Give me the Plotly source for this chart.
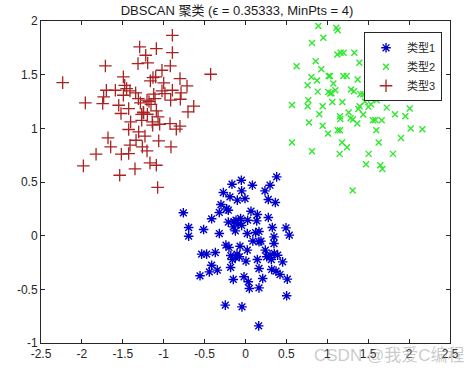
import plotly.graph_objects as go

# ---- data ----
c1_x = [0.381,-0.051,-0.165,0.084,0.300,-0.047,-0.271,0.238,-0.190,-0.006,-0.100,0.279,0.365,-0.300,-0.210,0.067,
        -0.320,-0.760,0.145,-0.414,0.279,0.137,-0.210,-0.116,-0.088,0.026,-0.149,-0.047,-0.695,-0.512,0.328,0.495,
        -0.124,-0.695,-0.320,0.022,0.124,0.165,0.536,0.348,0.165,0.189,0.348,-0.239,-0.067,0.022,-0.202,0.242,
        -0.536,-0.475,-0.369,-0.104,0.352,0.393,0.259,-0.124,-0.075,-0.161,0.006,0.145,0.316,0.454,-0.414,-0.182,
        0.165,-0.344,-0.442,0.320,0.373,-0.556,0.422,-0.018,0.210,0.511,-0.149,0.034,0.047,0.165,0.503,-0.247,
        -0.043,0.161,-0.140,-0.180,-0.060,0.090,0.300,-0.230]
c1_y = [0.548,0.517,0.479,0.470,0.470,0.417,0.402,0.417,0.362,0.346,0.331,0.337,0.309,0.290,0.237,0.228,
        0.216,0.213,0.197,0.157,0.169,0.138,0.126,0.144,0.113,0.144,0.082,0.095,0.076,0.057,0.076,0.073,
        0.045,-0.005,0.020,0.020,0.029,0.039,0.005,-0.011,-0.057,-0.051,-0.073,-0.088,-0.098,-0.135,-0.110,-0.135,
        -0.172,-0.172,-0.157,-0.172,-0.166,-0.182,-0.197,-0.203,-0.197,-0.222,-0.237,-0.222,-0.222,-0.244,-0.275,-0.296,
        -0.306,-0.321,-0.337,-0.315,-0.331,-0.374,-0.362,-0.383,-0.399,-0.405,-0.408,-0.430,-0.492,-0.486,-0.560,-0.647,
        -0.663,-0.840,0.130,-0.185,0.160,-0.050,-0.180,0.250]

c2_x = [0.890,1.110,1.127,0.951,0.813,1.163,1.200,1.330,1.123,0.858,1.392,0.625,0.927,1.017,1.033,1.196,
        1.237,0.805,0.874,1.371,1.498,1.665,0.760,1.074,1.290,0.882,1.013,1.098,1.037,1.326,1.404,1.534,
        1.640,1.440,1.477,1.514,0.768,1.061,1.184,1.603,0.568,0.760,0.943,1.396,1.502,1.534,1.261,1.726,
        2.007,0.902,1.155,1.286,1.440,1.828,1.954,1.159,1.314,1.559,1.587,1.665,0.776,1.367,0.943,2.019,
        2.162,1.127,1.155,1.599,1.009,1.901,0.568,1.180,1.628,1.241,0.813,1.151,1.506,1.803,1.473,1.648,
        1.673,1.310,1.050,1.460,1.380]
c2_y = [1.954,1.938,1.913,1.845,1.795,1.705,1.705,1.705,1.687,1.625,1.612,1.578,1.550,1.488,1.488,1.488,
        1.488,1.479,1.445,1.454,1.439,1.420,1.401,1.417,1.361,1.342,1.339,1.355,1.324,1.345,1.318,1.367,
        1.318,1.318,1.287,1.299,1.262,1.246,1.246,1.262,1.218,1.206,1.206,1.206,1.200,1.224,1.147,1.193,
        1.184,1.131,1.113,1.094,1.128,1.131,1.113,1.088,1.082,1.075,1.078,1.075,1.054,1.044,1.023,0.998,
        0.992,0.982,0.982,0.982,0.951,0.911,0.867,0.867,0.867,0.824,0.787,0.762,0.762,0.762,0.666,0.656,
        0.622,0.421,1.330,1.250,1.180]

c3_x = [-0.894,-1.294,-1.090,-0.894,-1.220,-1.713,-1.314,-1.196,-0.919,-1.021,-0.426,-2.235,-1.493,-1.131,-1.098,-1.163,
        -0.801,-1.000,-0.715,-1.477,-1.453,-1.701,-1.591,-1.412,-1.343,-1.122,-1.021,-0.894,-0.984,-0.788,-1.734,-1.493,
        -1.310,-1.204,-1.106,-0.915,-0.797,-1.958,-1.746,-1.550,-1.285,-1.155,-0.633,-1.428,-1.522,-1.245,-1.200,-1.090,
        -0.703,-1.404,-1.269,-1.135,-1.069,-1.049,-0.923,-0.801,-0.846,-1.428,-1.306,-1.229,-1.681,-1.338,-1.061,-1.648,
        -1.412,-1.261,-1.204,-0.911,-1.827,-1.518,-1.428,-1.982,-1.168,-1.090,-1.351,-1.538,-1.074,-1.180,-1.140,-1.250,
        -1.270]
c3_y = [1.867,1.758,1.743,1.706,1.681,1.581,1.603,1.609,1.581,1.541,1.504,1.426,1.479,1.473,1.479,1.442,
        1.463,1.423,1.395,1.401,1.370,1.355,1.355,1.349,1.330,1.318,1.349,1.355,1.324,1.330,1.293,1.308,
        1.277,1.262,1.277,1.262,1.271,1.237,1.231,1.215,1.237,1.224,1.206,1.184,1.138,1.144,1.131,1.162,
        1.153,1.060,1.075,1.029,1.106,1.038,1.044,1.020,0.992,0.989,0.967,0.927,0.911,0.889,0.883,0.827,
        0.843,0.827,0.790,0.827,0.759,0.759,0.765,0.650,0.678,0.656,0.622,0.563,0.449,1.250,1.060,1.150,
        1.130]

names = ["类型1", "类型2", "类型3"]
x_ticks = [-2.5, -2, -1.5, -1, -0.5, 0, 0.5, 1, 1.5, 2, 2.5]
y_ticks = [-1, -0.5, 0, 0.5, 1, 1.5, 2]

FONT = "Liberation Sans, Arial, Noto Sans CJK SC, sans-serif"

fig = go.Figure()
fig.add_trace(go.Scatter(x=c1_x, y=c1_y, mode="markers", name=names[0],
                         marker=dict(symbol="asterisk-open", size=8, color="#0000cc",
                                     line=dict(color="#0000cc", width=1.4))))
fig.add_trace(go.Scatter(x=c2_x, y=c2_y, mode="markers", name=names[1],
                         marker=dict(symbol="x-thin-open", size=6, color="#2ee82e",
                                     line=dict(color="#2ee82e", width=1.4))))
fig.add_trace(go.Scatter(x=c3_x, y=c3_y, mode="markers", name=names[2],
                         marker=dict(symbol="cross-thin-open", size=9, color="#aa2222",
                                     line=dict(color="#aa2222", width=1.3))))

axis_common = dict(showline=True, linecolor="#262626", linewidth=1, mirror="ticks",
                   ticks="inside", ticklen=4, tickcolor="#262626", showgrid=False, zeroline=False,
                   automargin=False,
                   tickfont=dict(family=FONT, size=12, color="#262626"))
fig.update_xaxes(range=[-2.5, 2.5], tickvals=x_ticks, ticktext=[f"{v:g}" for v in x_ticks], **axis_common)
fig.update_yaxes(range=[-1, 2], tickvals=y_ticks, ticktext=[f"{v:g}" for v in y_ticks], **axis_common)

fig.update_layout(
    width=474, height=373,
    margin=dict(l=41, r=24, t=21, b=30, autoexpand=False),
    paper_bgcolor="white", plot_bgcolor="white",
    title=dict(text="DBSCAN 聚类 (ϵ = 0.35333, MinPts = 4)", x=0.5, xanchor="center",
               y=0.972, yanchor="middle", font=dict(family=FONT, size=13, color="#1a1a1a")),
    showlegend=True,
    legend=dict(x=0.9805, y=0.965, xanchor="right", yanchor="top", bgcolor="white",
                bordercolor="#262626", borderwidth=1, font=dict(family=FONT, size=11, color="#262626"),
                itemwidth=32, tracegroupgap=0),
    annotations=[dict(text="CSDN @我爱C编程", x=1.04, y=-0.04, xref="paper", yref="paper", showarrow=False,
                      font=dict(family=FONT, size=17, color="rgba(150,150,150,0.5)"),
                      xanchor="right", yanchor="middle")],
)

fig.write_html("out.html", config={"displayModeBar": False},
               post_script="document.body.style.margin='0';document.body.style.overflow='hidden';")
